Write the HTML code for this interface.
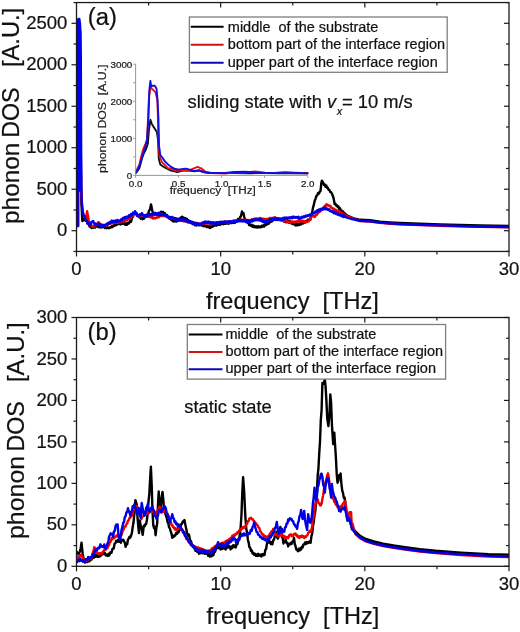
<!DOCTYPE html>
<html><head><meta charset="utf-8"><title>phonon DOS</title>
<style>html,body{margin:0;padding:0;background:#fff;width:520px;height:632px;overflow:hidden}svg{display:block}</style>
</head><body>
<svg width="520" height="632" viewBox="0 0 520 632" font-family='"Liberation Sans", Arial, sans-serif' fill="#111">
<style>text{stroke:#111;stroke-width:0.22px;paint-order:stroke}</style>
<rect width="520" height="632" fill="#fff"/>
<defs><clipPath id="clipA"><rect x="76.5" y="2.56" width="432.5" height="248.88"/></clipPath><clipPath id="clipB"><rect x="76.5" y="317.5" width="432.5" height="248.8"/></clipPath></defs>
<g clip-path="url(#clipA)">
<polyline points="78.1,226 78.1,180 78.2,120 78.4,105 79.3,110 80,130 80.7,170 81.3,200 82.3,221 83.8,220 84.7,217.61 85.7,220.84 86.7,221.07 87.63,223.68 88.57,223.85 89.5,226.41 90.47,225.68 91.43,227.92 92.4,227.33 93.35,227.77 94.3,226.31 95.27,227.5 96.23,225.77 97.2,226.6 98.16,225.77 99.12,227.27 100.08,226.08 101.04,227.58 102,225.77 102.96,227.22 103.92,226.78 104.88,227.98 105.84,226.54 106.8,228.27 107.77,227.25 108.73,228.3 109.7,227.38 110.67,227.69 111.63,226.16 112.6,226.95 113.57,225.34 114.53,225.76 115.5,224.35 116.47,225.09 117.43,223.63 118.4,224.12 119.37,222.91 120.33,224.49 121.3,223.05 122.1,223.93 122.9,222.21 123.7,223.8 124.4,223.22 125.1,224.83 126.07,223.33 127.03,224.76 128,222.84 129,223.46 130,221.05 131,221.77 132,217.89 133,216.51 134,213.33 135,213.59 136,212.7 137,214.71 138,215.01 139,217.14 140,217.14 140.83,218.76 141.67,217.91 142.5,219.18 143.33,217.31 144.17,218.47 145,216.74 146,216.81 147,214.44 148,214.84 149,210.84 150,209.58 151,204.36 152,209.32 153,213.67 154,214.79 155,213.01 156,214.72 157,213.42 158,214.09 159,212.68 160,213.99 161,211.66 162,212.68 163,211.76 164,213.8 165,213.34 166,215.87 167,215.1 167.83,217.19 168.67,216.84 169.5,218.78 170.33,217.9 171.17,219.94 172,219.55 172.83,221.37 173.67,219.68 174.5,221.52 175.33,219.93 176.17,221.56 177,220.31 177.83,220.98 178.67,219.43 179.5,220.06 180.33,217.83 181.17,218.36 182,216.65 182.83,218.32 183.67,217.52 184.5,218.99 185.33,218.16 186.17,219.95 187,218.87 187.83,220.74 188.67,220.31 189.5,221.61 190.33,221.24 191.17,222.89 192,221.8 193,224.16 194,223.04 195,225.37 195.83,224.05 196.67,225.46 197.5,223.83 198.33,224.99 199.17,224.35 200,225.01 200.83,224.05 201.67,225.54 202.5,224.87 203.33,226.17 204.17,225.08 205,226.15 205.83,225.64 206.67,226.97 207.5,226.13 208.33,227.29 209.17,226.25 210,227.92 210.83,226.39 211.67,227.16 212.5,225.83 213.33,226.34 214.17,224.79 215,225.43 215.83,224.46 216.67,225.6 217.5,223.84 218.33,224.78 219.17,223.44 220,224.87 220.83,223.52 221.67,223.98 222.5,223.1 223.33,224.14 224.17,222.75 225,223.79 225.83,222.14 226.67,223.51 227.5,222.3 228.33,223.65 229.17,221.72 230,223.16 230.83,221.96 231.67,223.09 232.5,221.67 233.33,222.87 234.17,221.56 235,222.74 236,220.99 237,221.18 238,219.02 239,219.91 240,217.49 241,215.9 242,211.48 242.75,213.96 243.5,213.18 244.25,217.39 245,219.12 245.83,220.87 246.67,220.62 247.5,222.83 248.33,222.46 249.17,225.14 250,224.3 250.83,225.72 251.67,224.69 252.5,226.88 253.33,225.41 254.17,227.16 255,226.24 255.83,227.34 256.67,226.36 257.5,227.57 258.33,226.2 259.17,227.24 260,226.43 260.83,227.32 261.67,225.79 262.5,226.7 263.33,225.27 264.17,226.46 265,224.37 265.83,225.06 266.67,223.76 267.5,224.18 268.33,222.11 269.17,223.4 270,221.46 270.83,221.87 271.67,220.06 272.5,221.14 273.33,218.71 274.17,219.62 275,217.58 275.83,219.4 276.67,218.09 277.5,219.84 278.33,218.5 279.17,219.89 280,218.84 280.83,220 281.67,219.03 282.5,220.8 283.33,219.9 284.17,221.84 285,220.61 285.83,222.14 286.67,221.13 287.5,222.25 288.33,220.93 289.17,222.64 290,221.03 290.83,223.35 291.67,222.47 292.5,223.99 293.33,223.36 294.17,224.49 295,224.25 295.83,225.44 296.67,223.61 297.5,225.28 298.33,223.79 299.17,225 300,223.35 300.97,224.38 301.93,222.73 302.9,223.51 303.87,222.31 304.83,222.77 305.8,220.98 306.72,222.02 307.64,219.79 308.56,220.78 309.48,219.09 310.4,219.85 311.25,214.97 312.1,213.01 312.95,207.88 313.8,204.96 314.7,200.77 315.6,198.62 316.45,195.92 317.3,195.27 318.15,192.91 319,193.59 319.75,191.52 320.5,191.22 321.3,183.33 321.9,180.62 323.1,182.33 323.95,184.79 324.8,184.44 325.57,186.75 326.33,185.6 327.1,187.81 327.87,187.79 328.63,189.87 329.4,189.83 330.3,192.11 331.2,192.17 332.3,194.51 333.5,197.81 334.6,204.01 335.37,203.55 336.13,205.65 336.9,205.28 337.67,206.91 338.43,206.39 339.2,209.08 339.97,208.09 340.73,210.41 341.5,210.55 342.27,212.5 343.03,211.55 343.8,213.98 344.74,213.1 345.68,214.46 346.62,215.04 347.56,215.62 348.5,216.2 354.2,218.5 360,219.8 370,220.3 380,221.6 390,222.4 400,223 420,223.8 440,224.4 460,225 480,225.5 509,226" fill="none" stroke="#000" stroke-width="2.4" stroke-linejoin="round" stroke-linecap="round" />
<polyline points="78.1,226 78.1,150 78.2,60 78.3,35 79.3,36 79.8,50 80.1,80 80.4,110 80.8,155 81.2,192 82,206 83.2,214 84.5,215.82 85.35,218.92 86.2,219.76 87.1,211.15 88.1,216.48 89.1,223.47 89.9,223.33 90.7,225.19 91.5,225.29 92.2,226.76 92.9,226.21 93.7,226.69 94.5,225.68 95.3,226.2 96.27,224.27 97.23,224.56 98.2,222.22 98.7,222.88 99.47,222.77 100.23,224.34 101,224.57 102,225.26 103,224.83 104,225.87 105,224.87 106,225.68 107,224.33 108,224.85 109,223.61 110,223.72 111,222.96 112,223.44 113,222.54 114,223.53 115,222.13 116,222.8 117,221.73 118,222.85 119,221.56 120,222.65 120.8,221.17 121.6,222.1 122.4,220.87 123.2,221.69 124.13,220.15 125.07,220.96 126,219.92 127,220.31 128,218.56 129,218.97 130,217.55 131,217.83 132,215.88 133,216.12 134,214.12 135,214.14 136,213.85 137,215.94 138,215.18 139,216.49 140,215.44 141,216.28 142,215.35 143,215.87 144,215.28 145,216.46 146,215.85 147,216.84 148,215.84 149,216.86 150,215.82 151,217.56 152,217.04 153,218.46 154,217.47 155,218.5 156,217.64 157,217.81 158,216.54 159,217.17 160,215.65 161,216.08 162,214.89 163,216.23 164,215.18 165,216.3 166,215.93 167,217.24 168,216.97 169,218.01 170,217.51 171,218.64 172,217.99 173,218.97 174,218.12 175,219.33 175.83,218.85 176.67,219.97 177.5,219.08 178.33,220.23 179.17,219.61 180,220.39 180.83,219.87 181.67,220.87 182.5,220.25 183.33,221.34 184.17,220.61 185,221.57 186,221.05 187,221.87 188,221.19 189,222.34 190,222 190.83,223 191.67,222.2 192.5,222.98 193.33,222.2 194.17,223.33 195,222.97 195.83,223.68 196.67,222.89 197.5,224.07 198.33,223.33 199.17,224.08 200,223.57 200.83,224.1 201.67,222.95 202.5,223.97 203.33,222.61 204.17,223.71 205,222.37 205.83,223.64 206.67,222.73 207.5,223.57 208.33,222.8 209.17,223.78 210,223.24 210.83,223.85 211.67,222.69 212.5,223.52 213.33,222.67 214.17,223.49 215,222.54 215.83,223.2 216.67,222.15 217.5,223.09 218.33,222.16 219.17,223 220,222.28 220.83,222.9 221.67,222.05 222.5,222.49 223.33,221.94 224.17,222.37 225,221.74 225.83,222.52 226.67,221.54 227.5,222.69 228.33,221.33 229.17,222.7 230,221.68 230.83,222.26 231.67,221.33 232.5,222 233.33,220.82 234.17,221.77 235,220.44 235.83,221.17 236.67,220.25 237.5,220.97 238.33,220.12 239.17,220.39 240,219.59 240.83,220.26 241.67,219.44 242.5,220.33 243.33,219.74 244.17,220.3 245,219.68 245.83,220.4 246.67,219.7 247.5,220.69 248.33,219.97 249.17,220.94 250,220.19 250.83,220.9 251.67,219.32 252.5,220.32 253.33,219.08 254.17,219.71 255,218.51 255.83,219.15 256.67,218.42 257.5,219.22 258.33,218.37 259.17,218.84 260,217.9 260.83,219.06 261.67,218.37 262.5,219.66 263.33,218.66 264.17,219.69 265,218.81 265.83,219.73 266.67,218.95 267.5,219.55 268.33,218.57 269.17,219.03 270,217.88 270.83,218.92 271.67,218.05 272.5,218.58 273.33,217.62 274.17,218.36 275,217.49 275.83,218.58 276.67,218.12 277.5,219 278.33,218.54 279.17,219.88 280,219.25 280.83,220.33 281.67,219.7 282.5,220.74 283.33,220.1 284.17,221.19 285,220.42 285.83,221.57 286.67,221.06 287.5,221.77 288.33,221.42 289.17,222.46 290,221.48 290.83,222.68 291.67,221.45 292.5,222.22 293.33,221.47 294.17,222.59 295,221.44 295.83,222.25 296.67,221.21 297.5,221.83 298.33,220.6 299.17,221.34 300,220.33 300.97,221.43 301.93,220.49 302.9,221.95 303.87,220.87 304.83,222.34 305.8,221.54 306.65,221.95 307.5,220.9 308.35,221.41 309.2,220.38 309.97,219.81 310.73,217.07 311.5,216.7 312.38,215.59 313.25,216.46 314.12,215.82 315,216.9 315.88,215.04 316.75,214.86 317.62,213.33 318.5,212.95 319.42,211.13 320.34,211.55 321.26,209.41 322.18,209.29 323.1,207.74 323.95,207.55 324.8,205.81 325.65,206.02 326.5,204.17 327.47,205.47 328.43,205.14 329.4,206.28 330.37,205.89 331.33,207.91 332.3,207.84 333.18,209.14 334.05,208.69 334.93,210.16 335.8,209.75 336.8,211.26 337.8,210.7 338.8,212.08 339.8,211.4 340.8,213.27 341.8,212.76 342.8,214.11 343.8,213.97 344.74,215.08 345.68,215.32 346.62,215.78 347.56,216.24 348.5,216.7 360,221.1 370,221.6 380,222.9 390,223.7 400,224.3 420,225.1 440,225.7 460,226.3 480,226.8 509,227.3" fill="none" stroke="#ee0000" stroke-width="2.4" stroke-linejoin="round" stroke-linecap="round" />
<polyline points="77.7,226 77.7,120 77.9,19.5 79.3,19 80,24 80.3,32 80.8,60 81,120 81.2,160 81.4,185 81.6,197 82.1,207 82.8,212 83.6,215 84.5,216.03 85.7,219.68 86.65,220.39 87.6,223.62 88.35,222.86 89.1,224.65 89.8,223.74 90.5,224.69 91.45,221.92 92.4,221.46 93.15,220.95 93.9,223.53 94.6,222.96 95.3,225.43 96.25,223.8 97.2,224.71 98.17,223.72 99.13,225.54 100.1,224.13 101.07,225.95 102.03,224.7 103,226.14 103.95,224.97 104.9,226.51 105.85,224.54 106.8,224.62 107.77,222.93 108.73,224 109.7,222.1 110.7,223.07 111.7,220.6 112.63,222.28 113.57,220.69 114.5,222.06 115.47,220.46 116.43,221.89 117.4,219.88 118.37,221.23 119.33,220.54 120.3,221.45 121.27,219.22 122.23,220.01 123.2,217.86 124.15,218.61 125.1,216.94 126.07,217.84 127.03,216.39 128,217.31 129,215.34 130,216.43 131,214.06 132,215.12 133,212.6 134,213.74 135,211.23 135.75,213.41 136.5,213.1 137.25,215.98 138,215.07 139,216.2 140,214.2 141,214.95 142,213.12 143,215.45 144,215 145,216.09 146,215.1 147,216.49 148,214.64 149,215.66 150,214.01 150.83,214.97 151.67,214.03 152.5,215.34 153.33,213.26 154.17,214.16 155,212.77 155.83,214.16 156.67,213.36 157.5,215.03 158.33,213.42 159.17,215.15 160,213.35 160.83,215.17 161.67,213.82 162.5,214.85 163.33,213.95 164.17,215.16 165,214.56 165.83,216.09 166.67,215.27 167.5,216.91 168.33,216.5 169.17,218.07 170,216.98 170.83,218.64 171.67,216.91 172.5,218.56 173.33,217.61 174.17,219.13 175,217.95 175.83,219.68 176.67,218.54 177.5,220.23 178.33,218.71 179.17,220.49 180,219.4 180.83,220.64 181.67,219.2 182.5,220.01 183.33,218.85 184.17,220.83 185,219.82 185.83,221.14 186.67,220.58 187.5,222.21 188.33,221.35 189.17,222.56 190,221.26 190.83,222.68 191.67,221.93 192.5,223.63 193.33,222.39 194.17,223.88 195,222.71 195.83,224.48 196.67,223.52 197.5,224.34 198.33,223.39 199.17,225.31 200,224.02 200.83,224.7 201.67,222.95 202.5,223.77 203.33,222.28 204.17,222.94 205,221.44 205.83,222.83 206.67,221.72 207.5,222.91 208.33,221.63 209.17,222.9 210,222 210.83,223.61 211.67,222.38 212.5,223.46 213.33,222.24 214.17,223.67 215,222.87 215.83,223.8 216.67,222.31 217.5,223.37 218.33,222.37 219.17,223.33 220,221.82 220.83,223.22 221.67,221.63 222.5,222.87 223.33,221.83 224.17,223.04 225,221.28 225.83,222.78 226.67,221.68 227.5,222.48 228.33,221.4 229.17,222.47 230,221.14 230.83,222.8 231.67,221.4 232.5,222.25 233.33,220.8 234.17,222.33 235,220.64 235.83,221.91 236.67,220.84 237.5,221.6 238.33,220.11 239.17,221.32 240,220.16 240.83,221.34 241.67,220.21 242.5,221.44 243.33,219.96 244.17,221.36 245,220.7 245.83,222.04 246.67,220.25 247.5,222.24 248.33,220.73 249.17,222.38 250,220.55 250.83,221.64 251.67,220.04 252.5,221.44 253.33,219.47 254.17,220.58 255,219.1 255.83,220.21 256.67,219.27 257.5,220.15 258.33,219.15 259.17,220.43 260,219.13 260.83,220.66 261.67,219.73 262.5,221.79 263.33,220.39 264.17,222.59 265,221.07 265.83,222.37 266.67,221.02 267.5,221.82 268.33,220.25 269.17,220.84 270,219.24 270.83,220.5 271.67,219.08 272.5,220.46 273.33,218.6 274.17,219.71 275,218.52 275.83,219.94 276.67,218.43 277.5,219.95 278.33,218.59 279.17,219.6 280,218.53 280.83,219.96 281.67,218.55 282.5,219.7 283.33,217.79 284.17,219.48 285,217.62 285.83,218.67 286.67,217.49 287.5,219 288.33,217.63 289.17,218.32 290,217.21 290.83,218.3 291.67,216.97 292.5,218.13 293.33,216.59 294.17,217.67 295,216.96 295.83,217.79 296.67,217.11 297.5,217.95 298.33,216.72 299.17,218.7 300,217.54 300.97,218.27 301.93,216.81 302.9,217.57 303.87,216.22 304.83,217.24 305.8,215.49 306.75,216.45 307.7,215.17 308.65,215.83 309.6,214.61 310.55,215.39 311.5,213.6 312.47,214.4 313.43,212.91 314.4,213.12 315.37,211.57 316.33,212.29 317.3,210.15 318.27,211.18 319.23,209.37 320.2,210.59 321.17,208.86 322.13,209.64 323.1,208.05 323.95,209.19 324.8,207.51 325.8,209.31 326.8,208.33 327.8,209.85 328.8,209.12 329.77,211.07 330.73,210.42 331.7,211.85 332.67,211.14 333.63,213.13 334.6,211.74 335.57,213.65 336.53,212.54 337.5,214.7 338.47,213.75 339.43,215.24 340.4,214.61 341.37,216.25 342.33,215 343.3,217.07 344.27,215.68 345.23,216.92 346.2,217.3 351.9,219 360,220.8 370,221.3 380,222.6 390,223.4 400,224 420,224.8 440,225.4 460,226 480,226.5 509,227" fill="none" stroke="#0000e8" stroke-width="2.4" stroke-linejoin="round" stroke-linecap="round" />
<polygon points="77,190 77,150 77.2,19.5 79.6,18.4 80.4,26 81.4,31 81.6,60 81.8,100 82,150 82.2,180 81,190 79.5,192" fill="#0000ee"/>
</g>
<rect x="76.5" y="2.56" width="432.5" height="248.88" fill="none" stroke="#1a1a1a" stroke-width="1.3"/>
<line x1="76.5" y1="251.44" x2="76.5" y2="256.44" stroke="#1a1a1a" stroke-width="1.2"/>
<line x1="220.67" y1="251.44" x2="220.67" y2="256.44" stroke="#1a1a1a" stroke-width="1.2"/>
<line x1="220.67" y1="2.56" x2="220.67" y2="7.56" stroke="#1a1a1a" stroke-width="1.2"/>
<line x1="364.83" y1="251.44" x2="364.83" y2="256.44" stroke="#1a1a1a" stroke-width="1.2"/>
<line x1="364.83" y1="2.56" x2="364.83" y2="7.56" stroke="#1a1a1a" stroke-width="1.2"/>
<line x1="509" y1="251.44" x2="509" y2="256.44" stroke="#1a1a1a" stroke-width="1.2"/>
<line x1="148.58" y1="251.44" x2="148.58" y2="254.44" stroke="#1a1a1a" stroke-width="1.2"/>
<line x1="148.58" y1="2.56" x2="148.58" y2="5.56" stroke="#1a1a1a" stroke-width="1.2"/>
<line x1="292.75" y1="251.44" x2="292.75" y2="254.44" stroke="#1a1a1a" stroke-width="1.2"/>
<line x1="292.75" y1="2.56" x2="292.75" y2="5.56" stroke="#1a1a1a" stroke-width="1.2"/>
<line x1="436.92" y1="251.44" x2="436.92" y2="254.44" stroke="#1a1a1a" stroke-width="1.2"/>
<line x1="436.92" y1="2.56" x2="436.92" y2="5.56" stroke="#1a1a1a" stroke-width="1.2"/>
<line x1="71.5" y1="230.7" x2="76.5" y2="230.7" stroke="#1a1a1a" stroke-width="1.2"/>
<line x1="504" y1="230.7" x2="509" y2="230.7" stroke="#1a1a1a" stroke-width="1.2"/>
<line x1="71.5" y1="189.22" x2="76.5" y2="189.22" stroke="#1a1a1a" stroke-width="1.2"/>
<line x1="504" y1="189.22" x2="509" y2="189.22" stroke="#1a1a1a" stroke-width="1.2"/>
<line x1="71.5" y1="147.74" x2="76.5" y2="147.74" stroke="#1a1a1a" stroke-width="1.2"/>
<line x1="504" y1="147.74" x2="509" y2="147.74" stroke="#1a1a1a" stroke-width="1.2"/>
<line x1="71.5" y1="106.26" x2="76.5" y2="106.26" stroke="#1a1a1a" stroke-width="1.2"/>
<line x1="504" y1="106.26" x2="509" y2="106.26" stroke="#1a1a1a" stroke-width="1.2"/>
<line x1="71.5" y1="64.78" x2="76.5" y2="64.78" stroke="#1a1a1a" stroke-width="1.2"/>
<line x1="504" y1="64.78" x2="509" y2="64.78" stroke="#1a1a1a" stroke-width="1.2"/>
<line x1="71.5" y1="23.3" x2="76.5" y2="23.3" stroke="#1a1a1a" stroke-width="1.2"/>
<line x1="504" y1="23.3" x2="509" y2="23.3" stroke="#1a1a1a" stroke-width="1.2"/>
<line x1="73.5" y1="251.44" x2="76.5" y2="251.44" stroke="#1a1a1a" stroke-width="1.2"/>
<line x1="506" y1="251.44" x2="509" y2="251.44" stroke="#1a1a1a" stroke-width="1.2"/>
<line x1="73.5" y1="209.96" x2="76.5" y2="209.96" stroke="#1a1a1a" stroke-width="1.2"/>
<line x1="506" y1="209.96" x2="509" y2="209.96" stroke="#1a1a1a" stroke-width="1.2"/>
<line x1="73.5" y1="168.48" x2="76.5" y2="168.48" stroke="#1a1a1a" stroke-width="1.2"/>
<line x1="506" y1="168.48" x2="509" y2="168.48" stroke="#1a1a1a" stroke-width="1.2"/>
<line x1="73.5" y1="127" x2="76.5" y2="127" stroke="#1a1a1a" stroke-width="1.2"/>
<line x1="506" y1="127" x2="509" y2="127" stroke="#1a1a1a" stroke-width="1.2"/>
<line x1="73.5" y1="85.52" x2="76.5" y2="85.52" stroke="#1a1a1a" stroke-width="1.2"/>
<line x1="506" y1="85.52" x2="509" y2="85.52" stroke="#1a1a1a" stroke-width="1.2"/>
<line x1="73.5" y1="44.04" x2="76.5" y2="44.04" stroke="#1a1a1a" stroke-width="1.2"/>
<line x1="506" y1="44.04" x2="509" y2="44.04" stroke="#1a1a1a" stroke-width="1.2"/>
<line x1="73.5" y1="2.56" x2="76.5" y2="2.56" stroke="#1a1a1a" stroke-width="1.2"/>
<line x1="506" y1="2.56" x2="509" y2="2.56" stroke="#1a1a1a" stroke-width="1.2"/>
<text x="67.3" y="236.3" font-size="18.5" text-anchor="end">0</text>
<text x="67.3" y="194.82" font-size="18.5" text-anchor="end">500</text>
<text x="67.3" y="153.34" font-size="18.5" text-anchor="end">1000</text>
<text x="67.3" y="111.86" font-size="18.5" text-anchor="end">1500</text>
<text x="67.3" y="70.38" font-size="18.5" text-anchor="end">2000</text>
<text x="67.3" y="28.9" font-size="18.5" text-anchor="end">2500</text>
<text x="76.5" y="274.7" font-size="18.5" text-anchor="middle">0</text>
<text x="220.67" y="274.7" font-size="18.5" text-anchor="middle">10</text>
<text x="364.83" y="274.7" font-size="18.5" text-anchor="middle">20</text>
<text x="509" y="274.7" font-size="18.5" text-anchor="middle">30</text>
<text x="205.96" y="309.4" font-size="23.6" textLength="172.83" lengthAdjust="spacingAndGlyphs" >frequency&#160; [THz]</text>
<text transform="translate(18.8,223.96) rotate(-90)" font-size="23.6" textLength="81.33" lengthAdjust="spacingAndGlyphs" >phonon</text>
<text transform="translate(18.8,137.65) rotate(-90)" font-size="23.6" textLength="50.21" lengthAdjust="spacingAndGlyphs" >DOS</text>
<text transform="translate(18.8,67.06) rotate(-90)" font-size="23.6" textLength="59.27" lengthAdjust="spacingAndGlyphs" >[A.U.]</text>
<text x="87.77" y="24.6" font-size="23.5" textLength="29.09" lengthAdjust="spacingAndGlyphs" >(a)</text>
<rect x="189.4" y="17" width="257.8" height="55.3" fill="#fff" stroke="#7e7e7e" stroke-width="1.3"/>
<line x1="190.8" y1="26.8" x2="223.6" y2="26.8" stroke="#000" stroke-width="2.0"/>
<line x1="190.8" y1="44.7" x2="223.6" y2="44.7" stroke="#d41212" stroke-width="2.0"/>
<line x1="190.8" y1="62.7" x2="223.6" y2="62.7" stroke="#0a0ab4" stroke-width="2.0"/>
<text x="227.83" y="31.9" font-size="14" textLength="150.59" lengthAdjust="spacingAndGlyphs" >middle&#160; of the substrate</text>
<text x="227.83" y="49.3" font-size="14" textLength="217.18" lengthAdjust="spacingAndGlyphs" >bottom part of the interface region</text>
<text x="227.83" y="66.7" font-size="14" textLength="209.88" lengthAdjust="spacingAndGlyphs" >upper part of the interface region</text>
<text x="187.5" y="108.2" font-size="18" textLength="225.2" lengthAdjust="spacingAndGlyphs">sliding state with <tspan font-style="italic">v</tspan><tspan font-style="italic" font-size="10" dx="0.8" dy="6.6">x</tspan><tspan dy="-6.6">= 10 m/s</tspan></text>
<polyline points="136,173 137.5,171 139.4,168.2 142.2,157.8 144,153 146,149.2 147.9,143.5 148.9,130.3 150.4,119.8 151.7,123.6 153,126 154.6,128.4 156.9,132.1 158,139.7 158.8,158.7 160.3,164.4 163,166.5 166,168.2 170,170.2 173.6,171 177.3,172 183,170.6 188.9,170.6 194.6,171.2 199,170.2 203.3,172 210.5,173 225,173 235,173 250,173.2 265,173 280,173.3 295,173.1 307.5,173.3" fill="none" stroke="#111" stroke-width="1.9" stroke-linejoin="round" stroke-linecap="round" />
<polyline points="136,172 137.5,168.5 139.4,164.4 141.3,156 143.2,149.2 145.1,145 147,139.7 148.2,115 148.9,98 150.4,87.5 152.7,89.4 155.5,92.3 157.4,99.9 158.4,136 159.3,155 160.5,158.5 162.2,162.5 164.3,164.5 167.9,168.2 171.5,168.5 173.6,170 177.3,170.9 183,170.2 188.9,170.6 193.2,168.7 197.5,166.8 201.8,168.7 206.2,172.3 212,173 225,173.5 235,172.3 245,172.5 255,171.5 265,172.8 275,173 285,172.3 295,172.8 307.5,173.2" fill="none" stroke="#e81010" stroke-width="1.9" stroke-linejoin="round" stroke-linecap="round" />
<polyline points="136,172.5 137.5,169.5 139.4,166.3 142.2,156.8 145.1,147.3 147,139.7 148.5,117 149.3,90.4 150.4,80.9 151.2,86.6 152.5,85.8 154.6,85.6 156.5,88.5 157.4,98 158.4,117 159,145.4 160.3,155 162.9,158.4 165,161.5 168.7,165.1 171.5,167.2 174.4,168.7 177,169.3 180.2,169.4 183,168.9 186,168.7 188.9,169.4 193.2,170.9 199,170.6 203.3,172 209,173 217.7,173 225,173 235,172 245,171.8 255,172.5 265,173 275,173 285,172.7 295,173 307.5,173.2" fill="none" stroke="#1010e0" stroke-width="1.9" stroke-linejoin="round" stroke-linecap="round" />
<line x1="135.6" y1="64.2" x2="135.6" y2="175.4" stroke="#8a8a8a" stroke-width="0.9"/>
<line x1="135.6" y1="175.4" x2="307.7" y2="175.4" stroke="#8a8a8a" stroke-width="0.9"/>
<line x1="133.1" y1="175.4" x2="135.6" y2="175.4" stroke="#8a8a8a" stroke-width="0.8"/>
<line x1="133.1" y1="156.87" x2="135.6" y2="156.87" stroke="#8a8a8a" stroke-width="0.8"/>
<line x1="133.1" y1="138.33" x2="135.6" y2="138.33" stroke="#8a8a8a" stroke-width="0.8"/>
<line x1="133.1" y1="119.8" x2="135.6" y2="119.8" stroke="#8a8a8a" stroke-width="0.8"/>
<line x1="133.1" y1="101.27" x2="135.6" y2="101.27" stroke="#8a8a8a" stroke-width="0.8"/>
<line x1="133.1" y1="82.73" x2="135.6" y2="82.73" stroke="#8a8a8a" stroke-width="0.8"/>
<line x1="133.1" y1="64.2" x2="135.6" y2="64.2" stroke="#8a8a8a" stroke-width="0.8"/>
<line x1="135.6" y1="175.4" x2="135.6" y2="177.9" stroke="#8a8a8a" stroke-width="0.8"/>
<line x1="178.62" y1="175.4" x2="178.62" y2="177.9" stroke="#8a8a8a" stroke-width="0.8"/>
<line x1="221.65" y1="175.4" x2="221.65" y2="177.9" stroke="#8a8a8a" stroke-width="0.8"/>
<line x1="264.67" y1="175.4" x2="264.67" y2="177.9" stroke="#8a8a8a" stroke-width="0.8"/>
<line x1="307.7" y1="175.4" x2="307.7" y2="177.9" stroke="#8a8a8a" stroke-width="0.8"/>
<text x="132.3" y="179" font-size="9.8" text-anchor="end" fill="#1a1a1a">0</text>
<text x="132.3" y="141.93" font-size="9.8" text-anchor="end" fill="#1a1a1a">1000</text>
<text x="132.3" y="104.87" font-size="9.8" text-anchor="end" fill="#1a1a1a">2000</text>
<text x="132.3" y="67.8" font-size="9.8" text-anchor="end" fill="#1a1a1a">3000</text>
<text x="135.6" y="186.6" font-size="9.8" text-anchor="middle" fill="#1a1a1a">0.0</text>
<text x="178.62" y="186.6" font-size="9.8" text-anchor="middle" fill="#1a1a1a">0.5</text>
<text x="221.65" y="186.6" font-size="9.8" text-anchor="middle" fill="#1a1a1a">1.0</text>
<text x="264.67" y="186.6" font-size="9.8" text-anchor="middle" fill="#1a1a1a">1.5</text>
<text x="307.7" y="186.6" font-size="9.8" text-anchor="middle" fill="#1a1a1a">2.0</text>
<text x="169.68" y="193.7" font-size="11.7" textLength="86.11" lengthAdjust="spacingAndGlyphs" fill="#222">frequency&#160; [THz]</text>
<text transform="translate(106.4,172.94) rotate(-90)" font-size="11.7" textLength="108.47" lengthAdjust="spacingAndGlyphs" fill="#222">phonon DOS&#160; [A.U.]</text>
<g clip-path="url(#clipB)">
<polyline points="77.1,552.1 78.2,553.7 79.05,553.68 79.9,551.35 80.7,548.18 81.5,542.75 82.7,553.96 83.8,559.77 84.9,562.67 86,561.01 87.1,562.14 88.2,560.12 89.3,561.34 90.4,559.85 91.5,559.49 92.6,557.01 93.7,557.73 94.8,554.26 95.65,556.8 96.5,554.83 97.35,556.79 98.2,555.83 99.03,556.91 99.85,554.34 100.67,556.02 101.5,553.11 102.43,554.4 103.37,552.63 104.3,554.2 105.2,553.28 106.1,555.62 107,555.18 107.77,555.9 108.53,553.63 109.3,555.48 110.4,552.31 111.5,552.76 112.6,548.68 113.7,548.61 114.55,543.71 115.4,543.26 116.2,540.7 117,541.77 118.1,540.06 119.2,541.78 120.05,541.01 120.9,542.77 121.75,539.87 122.6,540.33 123.3,539.72 124,541.36 124.8,542.55 125.6,546.88 126.4,543.98 127.2,544.3 127.95,539.55 128.7,538.67 129.5,536.8 130.3,537.61 131.1,535.53 131.9,532.79 132.7,527.09 133.5,522.52 134.3,514.42 135.4,500.2 136.7,504.39 137.45,516.38 138.2,525.75 139,533.1 139.8,520.41 140.6,525.6 141.4,527.19 142.7,534.79 143.8,525.65 144.6,526.21 145.4,524.17 146.15,524.07 146.9,520.29 147.7,513.26 148.5,501.44 149.3,494.26 150.1,479.14 150.9,466.75 151.7,485.33 152.5,511.5 153.3,525.44 154.1,528.25 154.9,526.85 155.6,535.23 156.4,527.89 157.2,523.56 158,504.21 158.7,491.51 159.6,504.26 160.4,510.27 161.5,498.31 162.5,491.9 163.3,499.57 164.1,511.54 165,511.9 165.9,515.72 166.7,517.55 167.5,521.88 168.3,523.32 169.1,527.51 169.9,528.29 170.7,531.44 171.5,533.71 172.3,537.84 173.07,535.76 173.83,536.76 174.6,535.27 175.4,535.47 176.2,532.95 177,533.8 177.8,531.5 178.6,532.37 179.4,529.91 180.23,529.1 181.07,524.38 181.9,523.82 182.73,521.56 183.57,522.1 184.4,520.08 185.7,526.37 187,532.58 187.95,535.65 188.9,534.55 190.1,540.34 190.97,541.18 191.83,544.32 192.7,545.19 193.65,547.65 194.6,547.75 195.55,550.81 196.5,550.38 197.33,551.97 198.17,550.93 199,553.7 199.95,551.36 200.9,553.26 201.85,551.14 202.8,553.19 203.75,551.39 204.7,553.87 205.65,552.26 206.6,553.87 207.43,553.45 208.27,555.85 209.1,554.09 209.9,556.53 210.7,554.6 211.5,556.29 212.3,554.18 213.25,555.32 214.2,552.27 215.15,551.77 216.1,547.41 217.05,548.11 218,545.17 218.83,548.1 219.67,546.67 220.5,549.46 221.33,547.09 222.17,549 223,546.1 223.87,548.16 224.73,547.16 225.6,549.51 226.43,546.66 227.27,547.86 228.1,545.35 228.93,547.21 229.77,546.57 230.6,549.31 231.47,546.46 232.33,547.9 233.2,545.21 234.03,546.63 234.87,545.44 235.7,547.5 236.53,544.21 237.37,544.2 238.2,540.87 239.1,539.3 240,533.21 240.75,525.79 241.5,514.21 242.3,492.17 243.1,477.2 244.2,492.29 245.2,514.2 246.3,529.09 247.1,532.73 247.9,539.97 248.65,542.64 249.4,547.42 250.2,547.67 251,551.03 251.8,550.62 252.6,553.52 253.4,552.83 254.2,554.84 255,553.81 255.8,555.77 256.6,554.5 257.4,556.05 258.2,553.76 259.23,555.63 260.27,554.55 261.3,556.44 262.1,554.19 262.9,555.57 263.7,553.9 264.5,554.93 265.3,550.08 266.1,549.08 266.85,544.16 267.6,541.66 268.4,540.04 269.2,542.62 270,541.52 270.8,544 271.6,542.27 272.4,544.35 273.2,540.31 274,539.67 274.77,536.33 275.53,536.05 276.3,532.03 277.1,537.07 277.9,538.56 278.7,536.09 279.5,530.15 280.3,527.03 281.1,530.41 281.9,536.7 282.7,538.27 283.5,543.51 284.27,540.73 285.03,541.63 285.8,540.03 286.6,543.15 287.4,543 288.2,546.44 289.1,543.82 290,544.36 290.8,542.75 291.6,543.99 292.4,541.59 293.2,541.79 294,537.81 294.75,544.01 295.5,545.99 296.3,549.54 297.1,549.52 297.9,551.15 298.7,548.85 299.5,550.62 300.3,548.2 301.1,549.51 301.9,546.69 302.67,547.45 303.43,544.41 304.2,544.42 305,542.54 305.8,544.09 306.6,542.11 307.4,543.34 308.2,542.1 309,542.82 309.8,541.17 310.6,542.85 311.4,536.34 312.2,533.53 312.95,526.34 313.7,522.41 314.5,515.2 315.3,511.08 316.1,500.34 316.9,492.84 317.7,475.25 318.4,468.99 319.2,453.91 320,441.86 320.8,420.19 321.6,410.01 322.4,382.95 323.7,383.85 324.8,379.18 325.6,386.92 326.4,400.34 327.2,418.03 328.4,426.08 329.5,413.54 330.3,394.39 331.1,402.84 331.9,424.32 333.2,444.07 334.3,432.8 335.1,445.38 335.9,457.6 336.7,473.77 337.5,482.75 338.3,480.9 339.1,475.13 339.85,476.23 340.6,473.44 341.4,483.84 342.2,490.39 343.1,493.33 343.8,497.83 344.6,497.5 345.4,504.6 346.9,516.9 349.2,520 351.9,527 355.4,531.5 360,535.8 365.8,539 373.8,541.5 383.1,543.7 393.5,545.5 405,547.2 420,549.2 435.5,550.7 461,552.6 488.4,554.1 509,554.7" fill="none" stroke="#000" stroke-width="2.4" stroke-linejoin="round" stroke-linecap="round" />
<polyline points="77.1,556.5 78.2,556.38 79.3,558.35 80.15,555.17 81,555.17 82.1,555.76 82.95,559.06 83.8,559.61 84.62,560.59 85.45,559.28 86.27,560.96 87.1,559.55 87.98,560.19 88.86,558.71 89.74,559.15 90.62,557.54 91.5,558.24 92.43,554.02 93.37,551.41 94.3,547.25 95.15,549.66 96,549.14 97.1,552.47 98.2,553.52 99.03,554.39 99.85,553.08 100.67,553.83 101.5,552.93 102.33,553.2 103.15,551.14 103.97,551.14 104.8,549 105.65,549.9 106.5,547.79 107.35,548.31 108.2,545.98 109.03,545.35 109.85,542.3 110.67,541.62 111.5,538.09 112.4,539.32 113.3,537.22 114.2,538.16 115.13,536.46 116.07,536.61 117,535.13 118.1,536.36 119.2,536.14 119.97,536.52 120.73,534.86 121.5,535.1 122.6,531.11 123.7,529.27 124.6,526.61 125.5,526.58 126.4,524.13 127.17,523.61 127.93,520.74 128.7,520.21 129.5,517.81 130.3,517.79 131.1,515.55 131.9,515.91 132.7,512.18 133.5,510.61 134.3,506.69 135.1,507.31 135.9,505.85 136.7,505.9 137.47,507.35 138.23,510.75 139,511.6 139.8,514.85 140.6,515.33 141.4,519.17 142.2,516.74 143,516.67 143.8,514.49 144.6,514.83 145.4,512.69 146.2,512.75 146.97,511.72 147.73,513.82 148.5,513.2 149.3,512.81 150.1,510.04 150.9,509.29 151.7,509.2 152.5,511.79 153.3,511.51 154.07,513.36 154.83,512.38 155.6,513.97 156.4,511.73 157.2,511.29 158,509.28 158.8,508.77 159.6,506.49 160.4,509.71 161.2,510.02 162,512.3 162.77,510.57 163.53,511.55 164.3,509.87 165.1,511.62 165.9,511.35 166.7,513.6 167.5,513.54 168.3,515.94 169.1,516.39 169.9,520.19 170.7,521.67 171.5,525.19 172.27,524.86 173.03,527.09 173.8,527.06 174.6,529.21 175.4,528.19 176.2,530.17 177,528.66 177.8,529.15 178.6,527.83 179.4,528.61 180.27,528.07 181.13,529.83 182,529.09 182.86,532.46 183.72,532.39 184.58,535.48 185.44,535.98 186.3,538.94 187.21,538.71 188.13,540.83 189.04,540.93 189.96,542.91 190.87,543.12 191.79,545.62 192.7,544.92 193.6,546.84 194.5,545.95 195.4,547.4 196.3,546.96 197.2,548.1 198.1,547.26 199,549.23 199.83,548.21 200.67,549.81 201.5,548.58 202.33,550.38 203.17,549.29 204,551.06 204.85,550 205.7,551.42 206.55,550.45 207.4,551.68 208.25,550.54 209.1,552.21 209.95,550.31 210.8,550.91 211.65,548.61 212.5,549.21 213.35,547.55 214.2,547.72 215.15,546.04 216.1,546.55 217.05,544.66 218,545.39 218.83,543.7 219.67,544.95 220.5,543.46 221.33,544.42 222.17,542.77 223,544.1 223.85,542.39 224.7,543.28 225.55,541.22 226.4,542.34 227.25,540.32 228.1,541.68 228.95,539.35 229.8,539.71 230.65,537.87 231.5,538.21 232.35,535.68 233.2,536.28 234.13,534.55 235.07,535.56 236,533.66 236.8,533.98 237.6,532.03 238.4,532.64 239.2,530.5 240.23,530.67 241.27,528.4 242.3,528.77 243.1,526.95 243.9,527.98 244.7,526.58 245.5,526.87 246.3,524.35 247.1,523.99 247.9,521.29 248.67,521.11 249.43,518.43 250.2,518.1 251,517.73 251.8,519.22 252.6,518.99 253.4,520.72 254.2,520.96 255,522.89 255.8,523.1 256.6,524.8 257.4,524.93 258.2,527.02 259.23,527.94 260.27,531.35 261.3,532.38 262.1,534.45 262.9,534.13 263.7,535.73 264.5,535.55 265.53,537.03 266.57,536.65 267.6,538.3 268.4,535.81 269.2,535.45 270,533.31 270.8,533.13 271.6,531.11 272.4,531.16 273.2,528.96 274,532.08 274.8,532.01 275.6,534.94 276.63,534.14 277.67,536.15 278.7,535.49 279.5,535.96 280.3,534.55 281.1,535.43 281.9,533.52 282.93,536.32 283.97,535.81 285,538 285.8,536.66 286.6,537.77 287.4,537.16 288.2,538.13 289.1,535.29 290,534.76 290.8,534.26 291.6,536.31 292.4,535.49 293.17,535.75 293.93,533.98 294.7,534.06 295.5,533.51 296.3,535.71 297.1,535.11 297.9,537.36 298.7,536.35 299.5,537.94 300.3,536.1 301.1,537.09 301.9,535.46 302.67,536.98 303.43,536.1 304.2,538.09 305,536.54 305.8,537.08 306.6,535.65 307.4,535.34 308.2,532.78 309,532.46 309.8,530.7 310.6,531.73 311.4,530.12 312.17,526.01 312.93,519.95 313.7,516.27 314.5,509.08 315.3,504.73 316.1,500.71 316.9,498.37 317.7,499.45 318.5,503.16 319.3,503.11 320.1,505.41 320.9,505.22 321.65,503.41 322.4,498.85 323.2,495.15 324,489.24 324.8,486.56 325.6,481.59 326.4,479.52 327.2,475.4 328,473.31 328.8,477.63 329.6,484.2 330.35,488.5 331.1,495.45 331.9,496.1 332.7,498.43 333.5,499.04 334.3,502.02 335.1,501.89 335.9,504.92 336.7,505.08 337.5,507.2 338.3,506.95 339.07,508.14 339.83,506.78 340.6,508.18 341.4,505.72 342.2,505.95 343,503.38 343.8,503.22 344.6,501.28 345.4,501.5 346.2,507.7 347.7,518.5 349.5,512.3 351.1,512.3 351.9,529.4 352.3,523.1 355.4,533.9 360,538.2 365.8,541.4 373.8,543.9 383.1,546.1 393.5,547.9 405,549.6 420,551.6 435.5,553.1 461,555 488.4,556.5 509,557.1" fill="none" stroke="#ee0000" stroke-width="2.4" stroke-linejoin="round" stroke-linecap="round" />
<polyline points="77.1,562.1 78.2,559.29 79.3,561.29 80.4,559.07 81.25,560.78 82.1,560.01 82.95,561.69 83.8,560.18 84.9,561.53 86,559.17 87.1,559.84 88.2,556.96 89.3,559.02 90.4,557.15 91.5,557.57 92.6,554.52 93.45,554.76 94.3,551.53 95.15,551.89 96,548.78 97.1,549.98 98.2,547.68 99.3,548.16 100.4,544.34 101.5,546.75 102.6,546.13 103.45,547.17 104.3,544.38 105.1,547.95 105.9,548.32 106.67,547.14 107.43,543.37 108.2,542.75 109,536.99 109.8,535.33 110.65,533.28 111.5,534.29 112.3,533.68 113.1,536.74 113.95,531.48 114.8,530.76 115.65,525.62 116.5,524.33 117.6,524.38 118.7,537.88 119.5,537.28 120.3,539.52 121.5,530.06 122.6,526.17 123.3,522.57 124,521.97 124.8,517.11 125.6,515.97 126.4,512.5 127.2,511.89 128,508.13 128.77,511.47 129.53,512.17 130.3,515.62 131.1,511.89 131.9,511.01 132.7,506.17 133.5,506.8 134.3,504.5 135.1,507.61 135.9,508.11 136.65,513.16 137.4,514.15 138.2,512.62 139,508.07 139.8,514.29 140.6,517.79 141.7,503 143,509.96 143.8,514.32 144.6,515.63 145.4,513.5 146.2,507.52 146.95,507.81 147.7,504.32 148.5,510 149.3,511 150.1,511.6 150.9,508 151.7,508.35 152.5,506.89 153.3,509.66 154.1,511.13 154.9,516.13 155.65,515.94 156.4,518.77 157.2,515.63 158,515.73 158.8,511.12 159.6,509.9 160.4,509.85 161.2,512.41 162,509.9 162.8,509.73 163.8,506.48 164.8,506.22 165.75,508 166.7,513.23 167.5,514.53 168.3,519.06 169.1,518.71 169.9,522.45 170.7,518.73 171.5,518.06 172.3,514.27 173.07,517.75 173.83,518.63 174.6,522.17 175.4,521.41 176.2,524.25 177,523.61 177.8,526.41 178.6,524.44 179.4,526.93 180.43,526.73 181.47,529.81 182.5,529.85 183.45,532.73 184.4,532.09 185.35,536.34 186.3,536.35 187.17,539.06 188.03,539.53 188.9,542.44 189.85,542.53 190.8,544.99 191.75,544.36 192.7,546.84 193.65,546.03 194.6,548.94 195.55,547.48 196.5,550.05 197.45,549.36 198.4,551.5 199.35,549.63 200.3,551.67 201.23,549.8 202.15,552.03 203.07,550.06 204,551.72 204.8,550.74 205.6,552.27 206.4,551.35 207.2,553.16 208,551.41 208.8,553.02 209.6,551.69 210.4,553.28 211.23,551.68 212.07,552.51 212.9,550.09 213.73,551.28 214.57,548.27 215.4,549.43 216.27,545.99 217.13,545.75 218,542.23 218.95,545.2 219.9,544.58 220.73,546.62 221.57,543.8 222.4,545.4 223.23,543.98 224.07,546.51 224.9,545.29 225.77,546.22 226.63,542.92 227.5,544.09 228.33,541.77 229.17,543.23 230,541.36 230.95,541.79 231.9,539.05 232.73,540.18 233.57,537.35 234.4,538.85 235.2,539 236,542.77 236.8,540.33 237.6,541.34 238.4,538.63 239.2,539.88 240.23,536.3 241.27,536.39 242.3,533.93 243.1,535.53 243.9,533.43 244.7,535.28 245.5,533.98 246.3,534.95 247.1,533.67 247.9,534.84 248.7,533.11 249.73,533.89 250.77,529.95 251.8,530.63 252.6,526.8 253.4,525.86 254.2,522.24 255,526.94 255.8,528.71 256.6,532.01 257.4,531.96 258.2,534.86 259.23,534.98 260.27,537.33 261.3,537.08 262.1,538.77 262.9,537.77 263.7,539.35 264.5,538.57 265.53,540.54 266.57,539.42 267.6,541.29 268.4,539.04 269.2,539.47 270,536.28 270.8,537.24 271.6,534.89 272.4,535.08 273.2,532.19 274,532.11 274.8,528.49 275.8,526.96 276.8,521.94 277.75,529.14 278.7,533.66 279.5,533.06 280.3,529.38 281.1,529.3 281.9,528.71 282.7,532.19 283.5,531.76 284.27,531.68 285.03,527.48 285.8,527.23 286.6,523.37 287.4,523.51 288.2,519.56 289,520.53 289.8,518.29 290.6,518.95 291.5,518.87 292.4,521.18 293.17,521.21 293.93,524.34 294.7,524.42 295.5,526.66 296.3,526.55 297.1,528.88 297.9,523.23 298.7,521.26 299.5,516.1 300.3,515.03 301.1,509.94 301.9,516.17 302.7,519.05 303.45,516.93 304.2,510.86 305,519.14 305.8,524.4 307.1,530.09 308.2,514.12 309,519.79 309.8,522.07 310.6,522.77 311.4,519.09 312.15,513.25 312.9,503.32 313.7,497.05 314.5,487.71 315.3,495.37 316.1,499.93 316.9,495.9 317.7,487.39 318.5,485.38 319.3,480.17 320.1,478.02 320.85,473.94 321.6,473.77 322.4,476.9 323.2,484.73 324,486.64 324.8,492.7 325.6,485.62 326.4,481.53 327.2,478.58 328,478.12 328.8,481.65 329.6,488.15 330.35,491.23 331.1,497.63 331.9,484.05 332.7,490.84 333.5,493.65 334.3,496.84 335.1,497.48 335.9,500 336.7,501.5 337.5,504.69 338.3,506.31 339.1,511.07 339.85,509.87 340.6,511.64 341.45,509.24 342.3,509.27 343.07,507.68 343.83,509.25 344.6,506.96 345.4,510.75 346.2,513.8 347.4,520.8 348.5,516.9 350,520 351.9,528.8 355.4,533.3 360,537.6 365.8,540.8 373.8,543.3 383.1,545.5 393.5,547.3 405,549 420,551 435.5,552.5 461,554.4 488.4,555.9 509,556.5" fill="none" stroke="#0000e8" stroke-width="2.4" stroke-linejoin="round" stroke-linecap="round" />
</g>
<rect x="76.5" y="317.5" width="432.5" height="248.8" fill="none" stroke="#1a1a1a" stroke-width="1.3"/>
<line x1="76.5" y1="566.3" x2="76.5" y2="571.3" stroke="#1a1a1a" stroke-width="1.2"/>
<line x1="220.67" y1="566.3" x2="220.67" y2="571.3" stroke="#1a1a1a" stroke-width="1.2"/>
<line x1="220.67" y1="317.5" x2="220.67" y2="322.5" stroke="#1a1a1a" stroke-width="1.2"/>
<line x1="364.83" y1="566.3" x2="364.83" y2="571.3" stroke="#1a1a1a" stroke-width="1.2"/>
<line x1="364.83" y1="317.5" x2="364.83" y2="322.5" stroke="#1a1a1a" stroke-width="1.2"/>
<line x1="509" y1="566.3" x2="509" y2="571.3" stroke="#1a1a1a" stroke-width="1.2"/>
<line x1="148.58" y1="566.3" x2="148.58" y2="569.3" stroke="#1a1a1a" stroke-width="1.2"/>
<line x1="148.58" y1="317.5" x2="148.58" y2="320.5" stroke="#1a1a1a" stroke-width="1.2"/>
<line x1="292.75" y1="566.3" x2="292.75" y2="569.3" stroke="#1a1a1a" stroke-width="1.2"/>
<line x1="292.75" y1="317.5" x2="292.75" y2="320.5" stroke="#1a1a1a" stroke-width="1.2"/>
<line x1="436.92" y1="566.3" x2="436.92" y2="569.3" stroke="#1a1a1a" stroke-width="1.2"/>
<line x1="436.92" y1="317.5" x2="436.92" y2="320.5" stroke="#1a1a1a" stroke-width="1.2"/>
<line x1="71.5" y1="566.3" x2="76.5" y2="566.3" stroke="#1a1a1a" stroke-width="1.2"/>
<line x1="504" y1="566.3" x2="509" y2="566.3" stroke="#1a1a1a" stroke-width="1.2"/>
<line x1="71.5" y1="524.83" x2="76.5" y2="524.83" stroke="#1a1a1a" stroke-width="1.2"/>
<line x1="504" y1="524.83" x2="509" y2="524.83" stroke="#1a1a1a" stroke-width="1.2"/>
<line x1="71.5" y1="483.37" x2="76.5" y2="483.37" stroke="#1a1a1a" stroke-width="1.2"/>
<line x1="504" y1="483.37" x2="509" y2="483.37" stroke="#1a1a1a" stroke-width="1.2"/>
<line x1="71.5" y1="441.9" x2="76.5" y2="441.9" stroke="#1a1a1a" stroke-width="1.2"/>
<line x1="504" y1="441.9" x2="509" y2="441.9" stroke="#1a1a1a" stroke-width="1.2"/>
<line x1="71.5" y1="400.43" x2="76.5" y2="400.43" stroke="#1a1a1a" stroke-width="1.2"/>
<line x1="504" y1="400.43" x2="509" y2="400.43" stroke="#1a1a1a" stroke-width="1.2"/>
<line x1="71.5" y1="358.97" x2="76.5" y2="358.97" stroke="#1a1a1a" stroke-width="1.2"/>
<line x1="504" y1="358.97" x2="509" y2="358.97" stroke="#1a1a1a" stroke-width="1.2"/>
<line x1="71.5" y1="317.5" x2="76.5" y2="317.5" stroke="#1a1a1a" stroke-width="1.2"/>
<line x1="504" y1="317.5" x2="509" y2="317.5" stroke="#1a1a1a" stroke-width="1.2"/>
<line x1="73.5" y1="545.57" x2="76.5" y2="545.57" stroke="#1a1a1a" stroke-width="1.2"/>
<line x1="506" y1="545.57" x2="509" y2="545.57" stroke="#1a1a1a" stroke-width="1.2"/>
<line x1="73.5" y1="504.1" x2="76.5" y2="504.1" stroke="#1a1a1a" stroke-width="1.2"/>
<line x1="506" y1="504.1" x2="509" y2="504.1" stroke="#1a1a1a" stroke-width="1.2"/>
<line x1="73.5" y1="462.63" x2="76.5" y2="462.63" stroke="#1a1a1a" stroke-width="1.2"/>
<line x1="506" y1="462.63" x2="509" y2="462.63" stroke="#1a1a1a" stroke-width="1.2"/>
<line x1="73.5" y1="421.17" x2="76.5" y2="421.17" stroke="#1a1a1a" stroke-width="1.2"/>
<line x1="506" y1="421.17" x2="509" y2="421.17" stroke="#1a1a1a" stroke-width="1.2"/>
<line x1="73.5" y1="379.7" x2="76.5" y2="379.7" stroke="#1a1a1a" stroke-width="1.2"/>
<line x1="506" y1="379.7" x2="509" y2="379.7" stroke="#1a1a1a" stroke-width="1.2"/>
<line x1="73.5" y1="338.23" x2="76.5" y2="338.23" stroke="#1a1a1a" stroke-width="1.2"/>
<line x1="506" y1="338.23" x2="509" y2="338.23" stroke="#1a1a1a" stroke-width="1.2"/>
<text x="67.3" y="571.9" font-size="18.5" text-anchor="end">0</text>
<text x="67.3" y="530.43" font-size="18.5" text-anchor="end">50</text>
<text x="67.3" y="488.97" font-size="18.5" text-anchor="end">100</text>
<text x="67.3" y="447.5" font-size="18.5" text-anchor="end">150</text>
<text x="67.3" y="406.03" font-size="18.5" text-anchor="end">200</text>
<text x="67.3" y="364.57" font-size="18.5" text-anchor="end">250</text>
<text x="67.3" y="323.1" font-size="18.5" text-anchor="end">300</text>
<text x="76.5" y="589.8" font-size="18.5" text-anchor="middle">0</text>
<text x="220.67" y="589.8" font-size="18.5" text-anchor="middle">10</text>
<text x="364.83" y="589.8" font-size="18.5" text-anchor="middle">20</text>
<text x="509" y="589.8" font-size="18.5" text-anchor="middle">30</text>
<text x="206.56" y="623.8" font-size="23.6" textLength="172.83" lengthAdjust="spacingAndGlyphs" >frequency&#160; [THz]</text>
<text transform="translate(23.7,539) rotate(-90)" font-size="23.6" textLength="83.2" lengthAdjust="spacingAndGlyphs" >phonon</text>
<text transform="translate(23.7,451.45) rotate(-90)" font-size="23.6" textLength="50.21" lengthAdjust="spacingAndGlyphs" >DOS</text>
<text transform="translate(23.7,382.07) rotate(-90)" font-size="23.6" textLength="59.8" lengthAdjust="spacingAndGlyphs" >[A.U.]</text>
<text x="87.58" y="339.5" font-size="23.5" textLength="28.98" lengthAdjust="spacingAndGlyphs" >(b)</text>
<rect x="187.3" y="324.5" width="258.3" height="54.6" fill="#fff" stroke="#7e7e7e" stroke-width="1.3"/>
<line x1="188.7" y1="334.6" x2="222.5" y2="334.6" stroke="#000" stroke-width="2.0"/>
<line x1="188.7" y1="351.9" x2="222.5" y2="351.9" stroke="#d41212" stroke-width="2.0"/>
<line x1="188.7" y1="369.2" x2="222.5" y2="369.2" stroke="#0a0ab4" stroke-width="2.0"/>
<text x="225.53" y="338.6" font-size="14" textLength="150.79" lengthAdjust="spacingAndGlyphs" >middle&#160; of the substrate</text>
<text x="225.53" y="356.1" font-size="14" textLength="217.58" lengthAdjust="spacingAndGlyphs" >bottom part of the interface region</text>
<text x="225.53" y="373.3" font-size="14" textLength="210.49" lengthAdjust="spacingAndGlyphs" >upper part of the interface region</text>
<text x="184.33" y="413.4" font-size="18.4" textLength="87.43" lengthAdjust="spacingAndGlyphs" >static state</text>
</svg>
</body></html>
